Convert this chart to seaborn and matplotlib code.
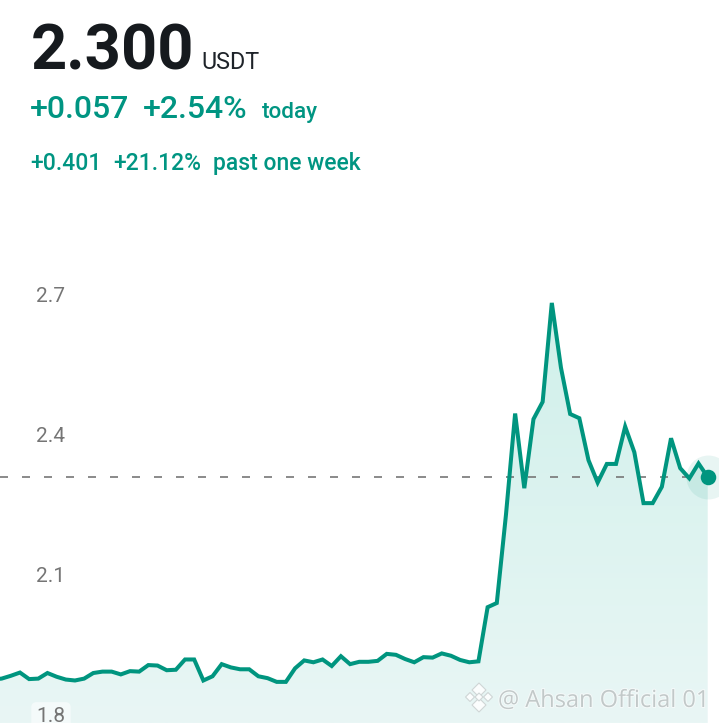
import numpy as np
import pandas as pd
import matplotlib
matplotlib.use("Agg")
import matplotlib.pyplot as plt
import matplotlib.patheffects as pe
from matplotlib.colors import LinearSegmentedColormap
from matplotlib.patches import Polygon
import seaborn as sns

# price readings, one every step of the chart
prices = [
    1.866, 1.868, 1.874, 1.881, 1.867, 1.868, 1.880, 1.872, 1.866, 1.864,
    1.868, 1.880, 1.883, 1.883, 1.877, 1.884, 1.883, 1.897, 1.896, 1.886,
    1.887, 1.909, 1.909, 1.864, 1.873, 1.899, 1.892, 1.888, 1.888, 1.873,
    1.869, 1.861, 1.861, 1.890, 1.907, 1.903, 1.909, 1.895, 1.916, 1.899,
    1.904, 1.904, 1.906, 1.921, 1.919, 1.910, 1.903, 1.914, 1.913, 1.922,
    1.917, 1.908, 1.903, 1.905, 2.021, 2.030, 2.219, 2.436, 2.276, 2.424,
    2.461, 2.673, 2.534, 2.435, 2.426, 2.336, 2.288, 2.328, 2.328, 2.408,
    2.353, 2.244, 2.244, 2.279, 2.383, 2.319, 2.297, 2.329, 2.300,
]
y_ticks = [2.7, 2.4, 2.1, 1.8]
last_price = 2.300

W, H = 719, 723
TEAL = "#00957f"
GREEN_TEXT = "#009582"

sns.set_theme(style="white")
plt.rcParams["font.family"] = ["Roboto", "DejaVu Sans"]

fig = plt.figure(figsize=(W / 100, H / 100), dpi=100)
ax = fig.add_axes([0, 0, 1, 1])

df = pd.DataFrame({"step": np.arange(len(prices)), "price": prices})

# scale: one step is 9.17 px, 466.7 px per 1 USDT, last point sits at (707.7, 477)
px_x, px_y = 9.17, 466.7
last = len(prices) - 1
x0 = last - 707.7 / px_x
x1 = last + (W - 707.7) / px_x
y0 = last_price - (H - 477) / px_y
y1 = last_price + 477 / px_y

# gradient area below the line
fill = ax.fill_between(df["step"], df["price"], y0, color="none", lw=0)
cmap = LinearSegmentedColormap.from_list("area", ["#e9f6f5", "#cff0ea"])
grad = ax.imshow(np.linspace(1, 0, 256).reshape(-1, 1), cmap=cmap, aspect="auto",
                 extent=[x0, last, y0, 2.7], zorder=1)
grad.set_clip_path(fill.get_paths()[0], transform=ax.transData)

sns.lineplot(data=df, x="step", y="price", ax=ax, color=TEAL, linewidth=2.9,
             solid_joinstyle="miter", zorder=3, errorbar=None)

ax.plot([x0, last + 1], [last_price, last_price], color="#777777", lw=1.2, zorder=2,
        dashes=(4.8, 8.4), dash_capstyle="butt")

# pulse and dot on the last point
ax.scatter([last], [last_price], s=1000, color=TEAL, alpha=0.09, lw=0, zorder=2, clip_on=True)
ax.scatter([last], [last_price], s=125, color=TEAL, lw=0, zorder=4)

ax.set_xlim(x0, x1)
ax.set_ylim(y0, y1)
ax.axis("off")

for v in y_ticks:
    ax.annotate(f"{v:.1f}", (x0, v), xytext=(36.5 * 0.72, -6.5 * 0.72), textcoords="offset points",
                ha="left", va="center", fontsize=15, color="#757575", zorder=5,
                bbox=dict(boxstyle="round,pad=0.25", fc="white", ec="none", alpha=0.55))


def put(x, y, s, size, color, weight="normal", family=None):
    # x and y are pixels from the top left, y is the text baseline
    return fig.text(x / W, 1 - y / H, s, fontsize=size, color=color, fontweight=weight,
                    ha="left", va="baseline", family=family or ["Roboto", "DejaVu Sans"])


put(31, 69, "2.300", 45.5, "#161a1e", "bold")
put(201, 69, "USDT", 16.8, "#1e2329")
put(30, 118, "+0.057", 23, GREEN_TEXT, "medium")
put(143, 118, "+2.54%", 23, GREEN_TEXT, "medium")
put(262, 118, "today", 16.2, GREEN_TEXT, "medium")
put(30, 170, "+0.401", 16.5, GREEN_TEXT, "medium")
put(113, 170, "+21.12%", 16.5, GREEN_TEXT, "medium")
put(213, 170, "past one week", 16.5, GREEN_TEXT, "medium")

# watermark
mark = put(498, 707, "@ Ahsan Official 01", 17, "#c2c9c9", family=["Open Sans", "DejaVu Sans"])
mark.set_path_effects([pe.withStroke(linewidth=1.4, foreground="#f6fafa")])


def diamond(cx, cy, r):
    pts = [(cx - r, cy), (cx, cy - r), (cx + r, cy), (cx, cy + r)]
    fig.add_artist(Polygon([(px / W, 1 - py / H) for px, py in pts], closed=True,
                           transform=fig.transFigure, fc="#fbfdfd", ec="#cfd6d6", lw=0.8))


for cx, cy, r in [(479, 690, 7), (470, 697, 4.5), (488, 697, 4.5), (479, 705, 7), (479, 697, 4)]:
    diamond(cx, cy, r)

fig.savefig("out.png", dpi=100)
